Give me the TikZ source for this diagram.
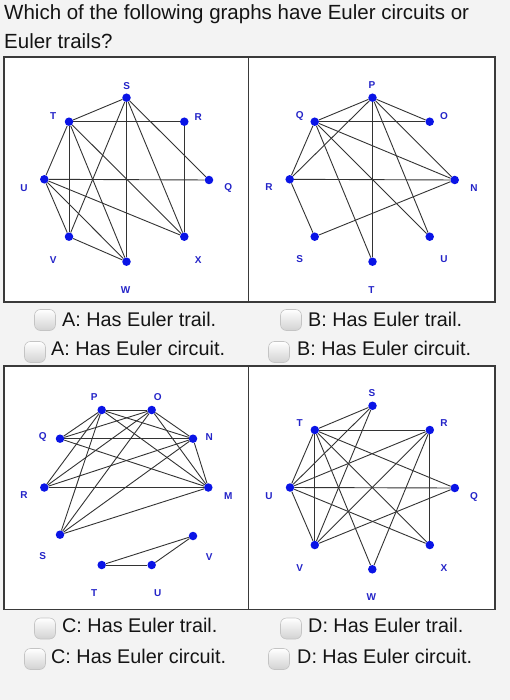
\documentclass[tikz,border=0pt]{standalone}
\usepackage{fontspec}
\setmainfont{Liberation Sans}
\definecolor{pagebg}{HTML}{F3F3F3}
\definecolor{panelc}{HTML}{3A3A3A}
\definecolor{edgec}{HTML}{333333}
\definecolor{vblue}{HTML}{0A14E6}
\definecolor{lblue}{HTML}{2424C8}
\definecolor{textc}{HTML}{141414}
\definecolor{boxc}{HTML}{C4C4C4}
\definecolor{boxfill}{HTML}{D2D2D2}
\pgfdeclarelayer{panels}
\pgfdeclarelayer{edges}
\pgfsetlayers{panels,edges,main}
\begin{document}
\begin{tikzpicture}[x=1pt,y=-1pt,
  vtx/.style={circle,fill=vblue,inner sep=0pt,minimum size=8.5pt},
  lbl/.style={text=lblue,font=\fontsize{10}{12}\selectfont\bfseries,inner sep=0pt},
  edge/.style={draw=edgec,line width=0.9pt},
  panel/.style={draw=panelc,fill=white,line width=1.1pt},
  txt/.style={anchor=base west,inner sep=0pt,font=\fontsize{19.8}{24}\selectfont,text=textc},
  ttl/.style={anchor=base west,inner sep=0pt,font=\fontsize{20.5}{24}\selectfont,text=textc},
  cbox/.style={draw=boxc,rounded corners=6pt,line width=0.6pt,top color=white,bottom color=boxfill,minimum size=21pt,inner sep=0pt}]
\useasboundingbox (0,0) rectangle (510,700);
\begin{pgfonlayer}{panels}
\fill[pagebg] (0,0) rectangle (510,700);
\draw[panel] (4,57) rectangle (248.5,302);
\draw[panel] (248.5,57) rectangle (495,302);
\draw[panel] (4,366) rectangle (248.5,609.5);
\draw[panel] (248.5,366) rectangle (495,609.5);
\end{pgfonlayer}

% title
\node[ttl] (title1) at (4,19.5) {Which of the following graphs have Euler circuits or};
\node[ttl] (title2) at (4,49) {Euler trails?};

% ---------- Graph A ----------
\node[vtx] (aS) at (126.5,97.7) {};
\node[vtx] (aT) at (69,121.7) {};
\node[vtx] (aR) at (184.3,121.7) {};
\node[vtx] (aU) at (44.3,179.3) {};
\node[vtx] (aQ) at (209,180) {};
\node[vtx] (aV) at (69,236.7) {};
\node[vtx] (aX) at (184.3,236.7) {};
\node[vtx] (aW) at (126.5,261.7) {};
\node[lbl] (aSl) at (126.7,85.7) {S};
\node[lbl] (aTl) at (53.3,115.7) {T};
\node[lbl] (aRl) at (198.3,116.7) {R};
\node[lbl] (aUl) at (24,187.7) {U};
\node[lbl] (aQl) at (228.3,188.3) {Q};
\node[lbl] (aVl) at (53.3,260) {V};
\node[lbl] (aXl) at (198.3,260) {X};
\node[lbl] (aWl) at (125.7,290) {W};
\begin{pgfonlayer}{edges}
\foreach \p/\q in {S/T,T/R,R/X,S/V,S/W,S/X,S/Q,T/U,T/V,T/W,T/X,U/Q,U/V,U/W,U/X,V/W}
  \draw[edge] (a\p) -- (a\q);
\end{pgfonlayer}

% ---------- Graph B ----------
\node[vtx] (bP) at (372.5,97.7) {};
\node[vtx] (bQ) at (314.7,121.7) {};
\node[vtx] (bO) at (429.7,121.7) {};
\node[vtx] (bR) at (289.7,179.3) {};
\node[vtx] (bN) at (454.7,180) {};
\node[vtx] (bS) at (314.7,236.7) {};
\node[vtx] (bU) at (429.7,236.7) {};
\node[vtx] (bT) at (372.5,261.7) {};
\node[lbl] (bPl) at (372,85) {P};
\node[lbl] (bQl) at (299.7,115.7) {Q};
\node[lbl] (bOl) at (444,115.7) {O};
\node[lbl] (bRl) at (269,187.3) {R};
\node[lbl] (bNl) at (474,188.3) {N};
\node[lbl] (bSl) at (299.7,259) {S};
\node[lbl] (bUl) at (444,259) {U};
\node[lbl] (bTl) at (371.3,290) {T};
\begin{pgfonlayer}{edges}
\foreach \p/\q in {P/Q,P/O,P/R,P/T,P/U,P/N,Q/O,Q/R,Q/N,Q/U,Q/T,R/N,R/S,S/N}
  \draw[edge] (b\p) -- (b\q);
\end{pgfonlayer}

% ---------- Graph C ----------
\node[vtx] (cP) at (101.7,410) {};
\node[vtx] (cO) at (151.7,410) {};
\node[vtx] (cQ) at (60,438.7) {};
\node[vtx] (cN) at (193,438.7) {};
\node[vtx] (cR) at (44.3,487.5) {};
\node[vtx] (cM) at (208.3,487.5) {};
\node[vtx] (cS) at (60,534.7) {};
\node[vtx] (cV) at (193,536) {};
\node[vtx] (cT) at (101.7,565) {};
\node[vtx] (cU) at (151.7,565) {};
\node[lbl] (cPl) at (94.3,397.3) {P};
\node[lbl] (cOl) at (157.7,397.3) {O};
\node[lbl] (cQl) at (42.7,436.7) {Q};
\node[lbl] (cNl) at (209.3,436.7) {N};
\node[lbl] (cRl) at (24,495) {R};
\node[lbl] (cMl) at (228.3,496) {M};
\node[lbl] (cSl) at (42.7,555.7) {S};
\node[lbl] (cVl) at (209.3,556.7) {V};
\node[lbl] (cTl) at (94.3,593.3) {T};
\node[lbl] (cUl) at (157.7,593.3) {U};
\begin{pgfonlayer}{edges}
\foreach \p/\q in {P/O,P/Q,P/N,P/M,P/R,P/S,O/Q,O/N,O/M,O/R,O/S,Q/N,Q/M,N/R,N/S,N/M,R/M,S/M,T/U,T/V,U/V}
  \draw[edge] (c\p) -- (c\q);
\end{pgfonlayer}

% ---------- Graph D ----------
\node[vtx] (dS) at (372.5,405.8) {};
\node[vtx] (dT) at (314.8,430) {};
\node[vtx] (dR) at (429.8,430) {};
\node[vtx] (dU) at (290,487.5) {};
\node[vtx] (dQ) at (454.8,488) {};
\node[vtx] (dV) at (314.8,545) {};
\node[vtx] (dX) at (429.8,545) {};
\node[vtx] (dW) at (372.3,569.3) {};
\node[lbl] (dSl) at (372,393.3) {S};
\node[lbl] (dTl) at (299.7,423.3) {T};
\node[lbl] (dRl) at (444,423.3) {R};
\node[lbl] (dUl) at (269,496) {U};
\node[lbl] (dQl) at (474,496.7) {Q};
\node[lbl] (dVl) at (299.7,567.7) {V};
\node[lbl] (dXl) at (444,567.7) {X};
\node[lbl] (dWl) at (371.3,596.7) {W};
\begin{pgfonlayer}{edges}
\foreach \p/\q in {S/T,S/U,S/V,T/R,T/U,T/V,T/Q,T/X,T/W,R/U,R/V,R/X,R/W,U/Q,U/V,U/X,V/Q}
  \draw[edge] (d\p) -- (d\q);
\end{pgfonlayer}

% ---------- answer options ----------
\node[cbox] (boxAt) at (45,320) {};
\node[txt] (optAt) at (62,326) {A: Has Euler trail.};
\node[cbox] (boxAc) at (35,352) {};
\node[txt] (optAc) at (51,355.5) {A: Has Euler circuit.};
\node[cbox] (boxBt) at (291,320) {};
\node[txt] (optBt) at (308,326) {B: Has Euler trail.};
\node[cbox] (boxBc) at (279,352) {};
\node[txt] (optBc) at (297,355.5) {B: Has Euler circuit.};
\node[cbox] (boxCt) at (45,628.5) {};
\node[txt] (optCt) at (62,632) {C: Has Euler trail.};
\node[cbox] (boxCc) at (35,659) {};
\node[txt] (optCc) at (51,663) {C: Has Euler circuit.};
\node[cbox] (boxDt) at (291,628.5) {};
\node[txt] (optDt) at (308,632) {D: Has Euler trail.};
\node[cbox] (boxDc) at (279,659) {};
\node[txt] (optDc) at (297,663) {D: Has Euler circuit.};
\end{tikzpicture}
\end{document}
